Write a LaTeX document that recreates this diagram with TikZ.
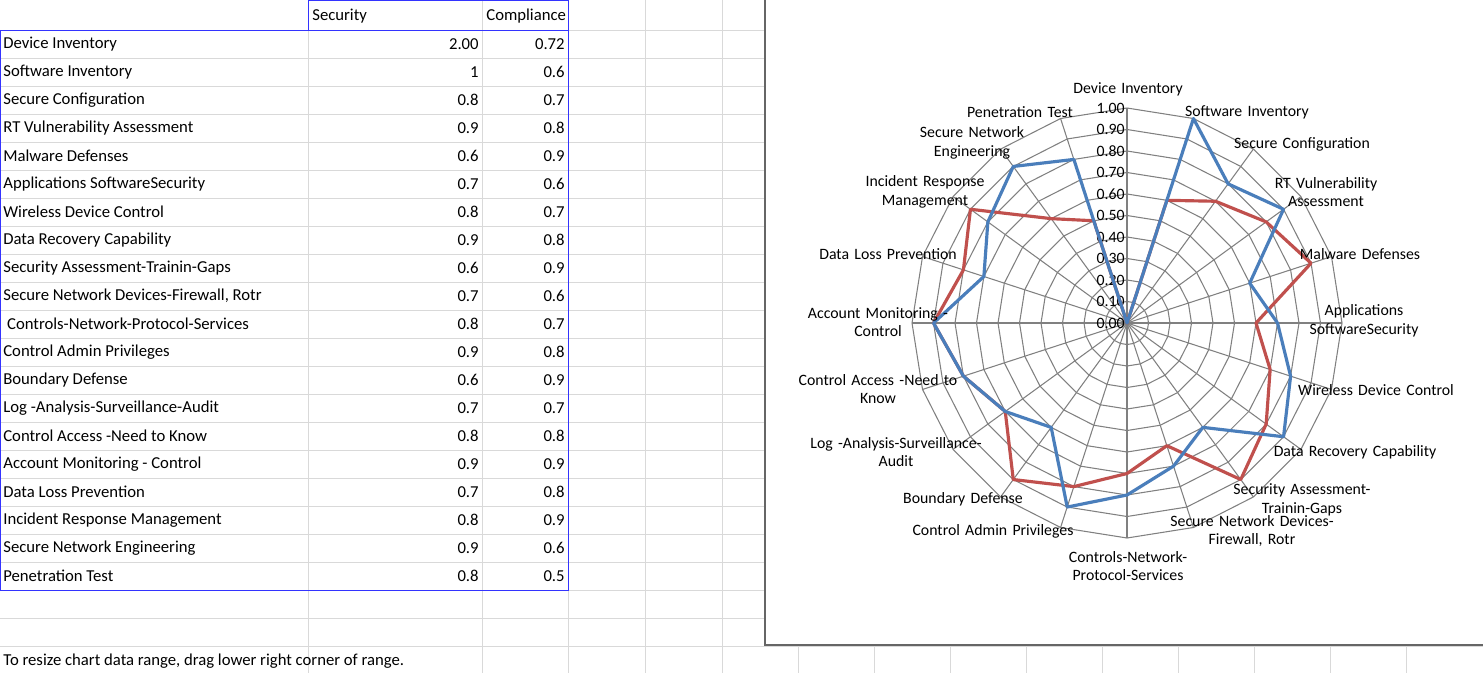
\documentclass[tikz,border=0pt]{standalone}
\usepackage{fontspec}
\setmainfont{Carlito}
\begin{document}
\begin{tikzpicture}[x=0.02cm,y=-0.02cm,
  grid/.style={draw=black!15,line width=0.4pt},
  web/.style={draw=black!50,line width=0.6pt},
  cell/.style={font=\fontsize{9.5}{11}\selectfont,inner sep=0pt},
  lab/.style={font=\fontsize{9}{10.5}\selectfont,inner sep=0pt,align=center,text width=4cm},
  tick/.style={font=\fontsize{9}{10}\selectfont,inner sep=0pt,anchor=east},
  blues/.style={draw={rgb,255:red,74;green,126;blue,187},line width=1.8pt,line join=round},
  reds/.style={draw={rgb,255:red,192;green,80;blue,77},line width=1.8pt,line join=round}]
\useasboundingbox (0,0) rectangle (1483,673);
\fill[white] (0,0) rectangle (1483,673);
% spreadsheet grid
\foreach \y in {0,1,...,23} \draw[grid] (0,{30+28*\y}) -- (765,{30+28*\y});
\draw[grid] (0,646) -- (1483,646);
\foreach \x in {308,482,568,645,722} \draw[grid] (\x,0) -- (\x,673);
\foreach \x in {798,874,950,1026,1102,1178,1254,1330,1406} \draw[grid] (\x,646) -- (\x,673);
\draw[blue!80,line width=0.5pt] (0,30) rectangle (568,590);
\draw[blue!80,line width=0.5pt] (308,0) rectangle (568,30);
\node[cell,anchor=west] (hs) at (312,16) {Security};
\node[cell,anchor=west] (hc) at (486,16) {Compliance};
\foreach [count=\i] \n/\s/\c in {Device Inventory/2.00/0.72,Software Inventory/1/0.6,Secure Configuration/0.8/0.7,RT Vulnerability Assessment/0.9/0.8,Malware Defenses/0.6/0.9,Applications SoftwareSecurity/0.7/0.6,Wireless Device Control/0.8/0.7,Data Recovery Capability/0.9/0.8,Security Assessment-Trainin-Gaps/0.6/0.9,{Secure Network Devices-Firewall, Rotr}/0.7/0.6,{\ Controls-Network-Protocol-Services}/0.8/0.7,Control Admin Privileges/0.9/0.8,Boundary Defense/0.6/0.9,Log -Analysis-Surveillance-Audit/0.7/0.7,Control Access -Need to Know/0.8/0.8,Account Monitoring - Control/0.9/0.9,Data Loss Prevention/0.7/0.8,Incident Response Management/0.8/0.9,Secure Network Engineering/0.9/0.6,Penetration Test/0.8/0.5}{
  \node[cell,anchor=west] (r\i) at (3,{16+28*\i}) {\n};
  \node[cell,anchor=east] (s\i) at (479,{16+28*\i}) {\s};
  \node[cell,anchor=east] (c\i) at (565,{16+28*\i}) {\c};
}
\node[cell,anchor=west] (note) at (3,661) {To resize chart data range, drag lower right corner of range.};
% chart area
\fill[white] (766,0) rectangle (1483,645);
\draw[black!60,line width=0.8pt] (765,0) -- (765,645) -- (1483,645);
\coordinate (O) at (1127,323);
\begin{scope}[shift={(1127,323)},x=0.02cm,y=0.02cm]
  \foreach \k in {0,...,19} \draw[web] (0,0) -- ({90-18*\k}:215);
  \foreach \r in {1,...,10} \draw[web] (90:{21.5*\r}) \foreach \k in {1,...,19} { -- ({90-18*\k}:{21.5*\r}) } -- cycle;
  \foreach \r/\t in {0/0.00,1/0.10,2/0.20,3/0.30,4/0.40,5/0.50,6/0.60,7/0.70,8/0.80,9/0.90,10/1.00} \node[tick] (t\r) at (-2,{21.5*\r}) {\t};
  \draw[reds] (90:0) \foreach[count=\k] \v in {0.6,0.7,0.8,0.9,0.6,0.7,0.8,0.9,0.6,0.7,0.8,0.9,0.7,0.8,0.9,0.8,0.9,0.6,0.5} { -- ({90-18*\k}:{215*\v}) } -- cycle;
  \draw[blues] (90:0) \foreach[count=\k] \v in {1,0.8,0.9,0.6,0.7,0.8,0.9,0.6,0.7,0.8,0.9,0.6,0.7,0.8,0.9,0.7,0.8,0.9,0.8} { -- ({90-18*\k}:{215*\v}) } -- cycle;
\end{scope}
\node[lab] (l0) at (1128,89) {Device Inventory};
\node[lab] (l1) at (1247,112) {Software Inventory};
\node[lab] (l2) at (1302,144) {Secure Configuration};
\node[lab] (l3) at (1326,192) {RT Vulnerability\\Assessment};
\node[lab] (l4) at (1360,254) {Malware Defenses};
\node[lab] (l5) at (1364,321) {Applications\\SoftwareSecurity};
\node[lab] (l6) at (1376,390) {Wireless Device Control};
\node[lab] (l7) at (1355,452) {Data Recovery Capability};
\node[lab] (l8) at (1302,500) {Security Assessment-\\Trainin-Gaps};
\node[lab] (l9) at (1252,531) {Secure Network Devices-\\Firewall, Rotr};
\node[lab] (l10) at (1128,566) {Controls-Network-\\Protocol-Services};
\node[lab] (l11) at (993,531) {Control Admin Privileges};
\node[lab] (l12) at (963,499) {Boundary Defense};
\node[lab] (l13) at (896,452) {Log -Analysis-Surveillance-\\Audit};
\node[lab] (l14) at (878,389) {Control Access -Need to\\Know};
\node[lab] (l15) at (878,322) {Account Monitoring -\\Control};
\node[lab] (l16) at (888,254) {Data Loss Prevention};
\node[lab] (l17) at (925,192) {Incident Response\\Management};
\node[lab] (l18) at (972,143) {Secure Network\\Engineering};
\node[lab] (l19) at (1020,112) {Penetration Test};
\end{tikzpicture}
\end{document}
